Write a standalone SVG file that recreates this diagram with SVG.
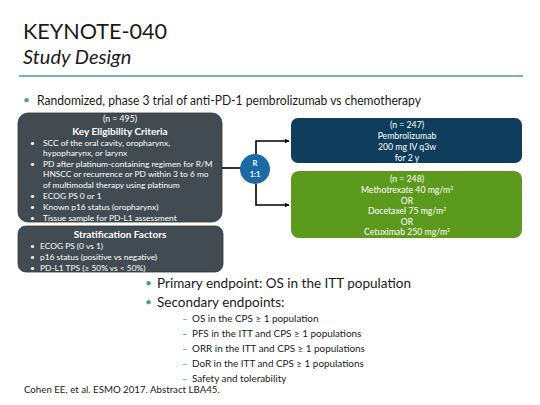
<svg xmlns="http://www.w3.org/2000/svg" width="540" height="405" viewBox="0 0 540 405">
<defs>
<marker id="arr" viewBox="0 0 10 10" refX="9" refY="5" markerWidth="5" markerHeight="5" orient="auto" markerUnits="userSpaceOnUse"><path d="M0,0 L10,5 L0,10 z" fill="#000"/></marker>
<style>
text{font-family:Lato,"Open Sans","Liberation Sans",sans-serif;}
.w{fill:#fff;font-size:8.4px;}
.wc{fill:#fff;font-size:8.7px;text-anchor:middle;}
.wb{fill:#fff;font-size:10px;font-weight:bold;text-anchor:middle;}
.b1{font-size:12.5px;fill:#1a1a1a;}
.s{font-size:9.9px;fill:#1a1a1a;}
.dash{fill:#4a9aa5;font-size:9.9px;}
.conn{fill:none;stroke:#000;stroke-width:1.6;}
</style>
</defs>
<rect width="540" height="405" fill="#fff"/>
<g id="title">
<text x="23" y="38.5" font-size="21.6" fill="#1a1a1a">KEYNOTE-040</text>
<text x="23" y="63.5" font-size="20" font-style="italic" fill="#1a1a1a">Study Design</text>
<line x1="19" y1="76" x2="523" y2="76" stroke="#4a9aa5" stroke-width="1.5"/>
</g>
<g id="intro">
<text x="23" y="104" font-size="12" fill="#4a9aa5">•</text>
<text x="37" y="105" class="b1" textLength="384" lengthAdjust="spacingAndGlyphs">Randomized, phase 3 trial of anti-PD-1 pembrolizumab vs chemotherapy</text>
</g>
<g id="connectors">
<line class="conn" x1="222" y1="168" x2="241" y2="168"/>
<polyline class="conn" points="256,154 256,141 289,141" marker-end="url(#arr)"/>
<polyline class="conn" points="256,184 256,205 289,205" marker-end="url(#arr)"/>
</g>
<g id="eligibility">
<rect x="18" y="113" width="204" height="109" rx="10" fill="#434b52" stroke="#2e3438" stroke-width="0.8"/>
<text x="120" y="121.5" class="wc">(n = 495)</text>
<text x="120" y="134.5" class="wb">Key Eligibility Criteria</text>
<text x="30" y="146" class="w">•</text><text x="43" y="146" class="w">SCC of the oral cavity, oropharynx,</text>
<text x="43" y="156" class="w">hypopharynx, or larynx</text>
<text x="30" y="166.5" class="w">•</text><text x="43" y="166.5" class="w">PD after platinum-containing regimen for R/M</text>
<text x="43" y="177" class="w">HNSCC or recurrence or PD within 3 to 6 mo</text>
<text x="43" y="187.5" class="w">of multimodal therapy using platinum</text>
<text x="30" y="199" class="w">•</text><text x="43" y="199" class="w">ECOG PS 0 or 1</text>
<text x="30" y="210" class="w">•</text><text x="43" y="210" class="w">Known p16 status (oropharynx)</text>
<text x="30" y="221" class="w">•</text><text x="43" y="221" class="w">Tissue sample for PD-L1 assessment</text>
</g>
<g id="stratification">
<rect x="18" y="226" width="205" height="46" rx="8" fill="#434b52" stroke="#2e3438" stroke-width="0.8"/>
<text x="120" y="237.5" class="wb">Stratification Factors</text>
<text x="30" y="249" class="w">•</text><text x="40" y="249" class="w">ECOG PS (0 vs 1)</text>
<text x="30" y="260" class="w">•</text><text x="40" y="260" class="w">p16 status (positive vs negative)</text>
<text x="30" y="271" class="w">•</text><text x="40" y="271" class="w">PD-L1 TPS (≥ 50% vs &lt; 50%)</text>
</g>
<g id="randomization">
<circle cx="255" cy="169" r="15" fill="#1b6aa5"/>
<text x="255" y="166" font-size="7.5" font-weight="bold" fill="#fff" text-anchor="middle">R</text>
<text x="255" y="177" font-size="7.5" font-weight="bold" fill="#fff" text-anchor="middle">1:1</text>
</g>
<g id="pembrolizumab">
<rect x="291" y="118" width="231" height="45" rx="7" fill="#0f3d5c"/>
<text x="407" y="128" class="wc">(n = 247)</text>
<text x="407" y="139" class="wc">Pembrolizumab</text>
<text x="407" y="150" class="wc">200 mg IV q3w</text>
<text x="407" y="161" class="wc">for 2 y</text>
</g>
<g id="chemotherapy">
<rect x="291" y="171" width="231" height="67" rx="8" fill="#5c9a1e"/>
<text x="407" y="182" class="wc">(n = 248)</text>
<text x="407" y="193" class="wc">Methotrexate 40 mg/m<tspan font-size="5" dy="-3">2</tspan></text>
<text x="407" y="203.5" class="wc">OR</text>
<text x="407" y="214" class="wc">Docetaxel 75 mg/m<tspan font-size="5" dy="-3">2</tspan></text>
<text x="407" y="224.5" class="wc">OR</text>
<text x="407" y="235" class="wc">Cetuximab 250 mg/m<tspan font-size="5" dy="-3">2</tspan></text>
</g>
<g id="endpoints">
<text x="145" y="287" font-size="12" fill="#4a9aa5">•</text>
<text x="157" y="288" font-size="13.5" fill="#1a1a1a">Primary endpoint: OS in the ITT population</text>
<text x="145" y="306" font-size="12" fill="#4a9aa5">•</text>
<text x="157" y="307" font-size="13.5" fill="#1a1a1a">Secondary endpoints:</text>
<text x="182" y="321.5" class="dash">–</text><text x="192" y="321.5" class="s">OS in the CPS ≥ 1 population</text>
<text x="182" y="336.5" class="dash">–</text><text x="192" y="336.5" class="s">PFS in the ITT and CPS ≥ 1 populations</text>
<text x="182" y="352" class="dash">–</text><text x="192" y="352" class="s">ORR in the ITT and CPS ≥ 1 populations</text>
<text x="182" y="367" class="dash">–</text><text x="192" y="367" class="s">DoR in the ITT and CPS ≥ 1 populations</text>
<text x="182" y="381.5" class="dash">–</text><text x="192" y="381.5" class="s">Safety and tolerability</text>
</g>
<g id="citation">
<text x="24" y="393" font-size="9.7" fill="#1a1a1a">Cohen EE, et al. ESMO 2017. Abstract LBA45.</text>
</g>
</svg>
